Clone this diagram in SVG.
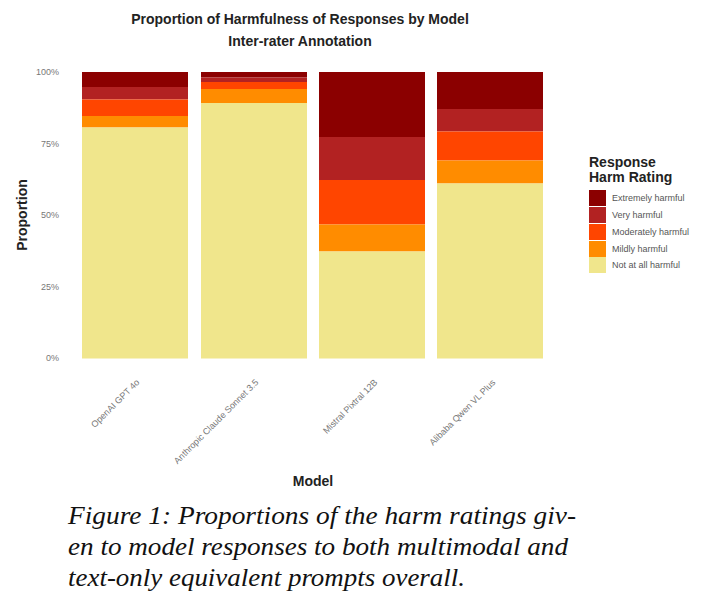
<svg xmlns="http://www.w3.org/2000/svg" width="710" height="602" viewBox="0 0 710 602">
<style>
.t{font-family:"Liberation Sans",Arial,sans-serif;font-weight:bold;fill:#222;font-size:14px}
.ax{font-family:"Liberation Sans",Arial,sans-serif;fill:#777;font-size:9px}
.lg{font-family:"Liberation Sans",Arial,sans-serif;fill:#555;font-size:9px}
.cap{font-family:"Liberation Serif","Times New Roman",serif;font-style:italic;font-size:25px;fill:#111}
.e{fill:#8b0000}.v{fill:#b22222}.m{fill:#ff4500}.l{fill:#ff8c00}.n{fill:#f0e68c}
</style>
<rect width="710" height="602" fill="#fff"/>
<text class="t" x="300" y="24" text-anchor="middle">Proportion of Harmfulness of Responses by Model</text>
<text class="t" x="300" y="46" text-anchor="middle">Inter-rater Annotation</text>
<g id="yaxis">
<text class="ax" x="59" y="75" text-anchor="end">100%</text>
<text class="ax" x="59" y="147" text-anchor="end">75%</text>
<text class="ax" x="59" y="218" text-anchor="end">50%</text>
<text class="ax" x="59" y="290" text-anchor="end">25%</text>
<text class="ax" x="59" y="361" text-anchor="end">0%</text>
<text class="t" transform="translate(27,215) rotate(-90)" text-anchor="middle" font-size="12">Proportion</text>
</g>
<g id="bar1">
<rect class="e" x="82" y="72" width="106" height="15"/>
<rect class="v" x="82" y="87" width="106" height="12.5"/>
<rect class="m" x="82" y="99.5" width="106" height="16.5"/>
<rect class="l" x="82" y="116" width="106" height="11.5"/>
<rect class="n" x="82" y="127.5" width="106" height="231"/>
</g>
<g id="bar2">
<rect class="e" x="201" y="72" width="106" height="5.5"/>
<rect class="v" x="201" y="77.5" width="106" height="4.5"/>
<rect class="m" x="201" y="82" width="106" height="7"/>
<rect class="l" x="201" y="89" width="106" height="14"/>
<rect class="n" x="201" y="103" width="106" height="255.5"/>
</g>
<g id="bar3">
<rect class="e" x="319" y="72" width="106" height="65"/>
<rect class="v" x="319" y="137" width="106" height="43"/>
<rect class="m" x="319" y="180" width="106" height="44.5"/>
<rect class="l" x="319" y="224.5" width="106" height="27"/>
<rect class="n" x="319" y="251.5" width="106" height="107"/>
</g>
<g id="bar4">
<rect class="e" x="437" y="72" width="106" height="37"/>
<rect class="v" x="437" y="109" width="106" height="22.5"/>
<rect class="m" x="437" y="131.5" width="106" height="29"/>
<rect class="l" x="437" y="160.5" width="106" height="23"/>
<rect class="n" x="437" y="183.5" width="106" height="175"/>
</g>
<g id="xaxis">
<text class="ax" transform="translate(140,383) rotate(-45)" text-anchor="end">OpenAI GPT 4o</text>
<text class="ax" transform="translate(259,383) rotate(-45)" text-anchor="end">Anthropic Claude Sonnet 3.5</text>
<text class="ax" transform="translate(378,383) rotate(-45)" text-anchor="end">Mistral Pixtral 12B</text>
<text class="ax" transform="translate(496,383) rotate(-45)" text-anchor="end">Alibaba Qwen VL Plus</text>
<text class="t" x="313" y="486" text-anchor="middle" font-size="12">Model</text>
</g>
<g id="legend">
<text class="t" x="589" y="167" font-size="12">Response</text>
<text class="t" x="589" y="182" font-size="12">Harm Rating</text>
<rect class="e" x="589" y="190" width="17" height="16"/>
<rect class="v" x="589" y="207" width="17" height="16"/>
<rect class="m" x="589" y="224" width="17" height="16"/>
<rect class="l" x="589" y="241" width="17" height="16"/>
<rect class="n" x="589" y="257" width="17" height="16"/>
<text class="lg" x="612" y="201">Extremely harmful</text>
<text class="lg" x="612" y="218">Very harmful</text>
<text class="lg" x="612" y="235">Moderately harmful</text>
<text class="lg" x="612" y="252">Mildly harmful</text>
<text class="lg" x="612" y="268">Not at all harmful</text>
</g>
<text class="cap" x="68" y="524" textLength="508" lengthAdjust="spacingAndGlyphs">Figure 1: Proportions of the harm ratings giv-</text>
<text class="cap" x="68" y="555" textLength="500" lengthAdjust="spacingAndGlyphs">en to model responses to both multimodal and</text>
<text class="cap" x="68" y="586" textLength="397" lengthAdjust="spacingAndGlyphs">text-only equivalent prompts overall.</text>
</svg>
